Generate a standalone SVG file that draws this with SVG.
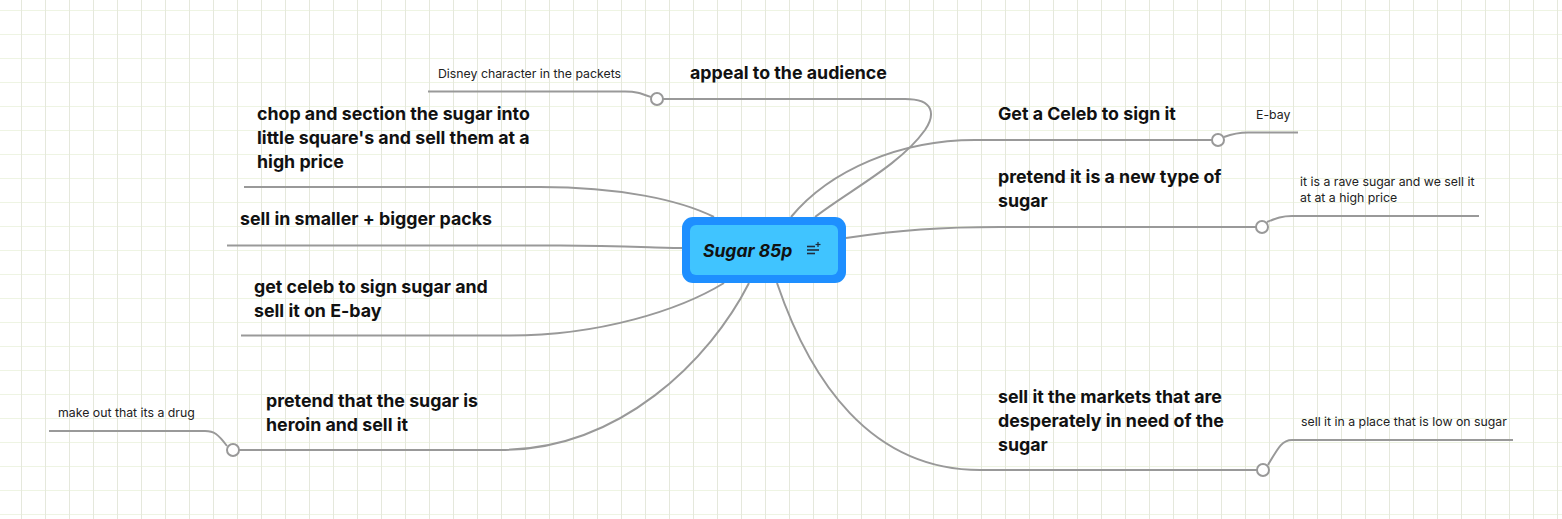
<svg xmlns="http://www.w3.org/2000/svg" width="1562" height="519" viewBox="0 0 1562 519">
<style>
.main{font-family:Inter,"Noto Sans",sans-serif;font-weight:700;font-size:17.8px;fill:#111}
.sub{font-family:Inter,"Noto Sans",sans-serif;font-size:12.3px;fill:#222}
.conn path{fill:none;stroke:#999;stroke-width:2}
.dot{fill:#fff;stroke:#999;stroke-width:2}
</style>
<defs>
<pattern id="grid" x="21" y="10" width="24" height="24" patternUnits="userSpaceOnUse">
<rect x="0" y="0" width="24" height="1" fill="#eef4e3"/>
<rect x="0" y="0" width="1" height="24" fill="#e5e8dc"/>
</pattern>
</defs>
<rect width="1562" height="519" fill="#fff"/>
<rect width="1562" height="519" fill="url(#grid)"/>
<g id="connectors" class="conn">
<path d="M244,187 H540 C620,187 680,200 714,217"/>
<path d="M227,245.5 H560 C620,245.5 660,248 682,248"/>
<path d="M241,335.5 H510 C600,335.5 680,310 724,283"/>
<path d="M239,450 H500 C620,450 710,360 749,283"/>
<path d="M227,446 C218,434 214,431 205,431 H49"/>
<path d="M815,217 C850,190 900,165 925,130 C935,115 935,99 905,99 H663"/>
<path d="M651,97 C640,93 636,91.5 625,91.5 H428"/>
<path d="M791,217 C830,170 900,140 975,140 H1212"/>
<path d="M1224,137 C1232,134 1238,132.5 1248,132.5 H1298"/>
<path d="M846,238 C900,230 940,227 1000,227 H1256"/>
<path d="M1267,222 C1277,218 1282,216 1292,216 H1479"/>
<path d="M777,283 C810,380 870,470 980,470 H1257"/>
<path d="M1268,465 C1278,448 1282,440 1292,440 H1513"/>
</g>
<g id="dots">
<circle class="dot" cx="657" cy="99" r="6"/>
<circle class="dot" cx="1218" cy="140" r="6"/>
<circle class="dot" cx="1262" cy="227" r="6"/>
<circle class="dot" cx="1263" cy="470" r="6"/>
<circle class="dot" cx="233" cy="450" r="6"/>
</g>
<g id="root">
<rect x="682" y="217" width="164" height="66" rx="11" fill="#1e8fff"/>
<rect x="690" y="225" width="148" height="50" rx="6" fill="#40c4ff"/>
<text x="703" y="257" font-family="Inter,'Noto Sans',sans-serif" font-weight="700" font-style="italic" font-size="17.5" fill="#111">Sugar 85p</text>
<g stroke="#1f2d3d" stroke-width="1.6">
<line x1="807" y1="246.5" x2="815" y2="246.5"/>
<line x1="807" y1="250" x2="819" y2="250"/>
<line x1="807" y1="253.5" x2="815" y2="253.5"/>
<line x1="818" y1="242" x2="818" y2="247" stroke-width="1.2"/>
<line x1="815.5" y1="244.5" x2="820.5" y2="244.5" stroke-width="1.2"/>
</g>
</g>
<g id="n-appeal"><text class="main" x="690" y="79">appeal to the audience</text></g>
<g id="n-disney"><text class="sub" x="438" y="78">Disney character in the packets</text></g>
<g id="n-chop"><text class="main" x="257" y="120">chop and section the sugar into</text><text class="main" x="257" y="144">little square's and sell them at a</text><text class="main" x="257" y="168">high price</text></g>
<g id="n-smaller"><text class="main" x="240" y="225">sell in smaller + bigger packs</text></g>
<g id="n-getceleb"><text class="main" x="254" y="293">get celeb to sign sugar and</text><text class="main" x="254" y="317">sell it on E-bay</text></g>
<g id="n-heroin"><text class="main" x="266" y="407">pretend that the sugar is</text><text class="main" x="266" y="431">heroin and sell it</text></g>
<g id="n-drug"><text class="sub" x="58" y="417">make out that its a drug</text></g>
<g id="n-celeb"><text class="main" x="998" y="120">Get a Celeb to sign it</text></g>
<g id="n-ebay"><text class="sub" x="1256" y="119">E-bay</text></g>
<g id="n-newtype"><text class="main" x="998" y="183">pretend it is a new type of</text><text class="main" x="998" y="207">sugar</text></g>
<g id="n-rave"><text class="sub" x="1300" y="186">it is a rave sugar and we sell it</text><text class="sub" x="1300" y="202">at at a high price</text></g>
<g id="n-markets"><text class="main" x="998" y="403">sell it the markets that are</text><text class="main" x="998" y="427">desperately in need of the</text><text class="main" x="998" y="451">sugar</text></g>
<g id="n-low"><text class="sub" x="1301" y="426">sell it in a place that is low on sugar</text></g>
</svg>
